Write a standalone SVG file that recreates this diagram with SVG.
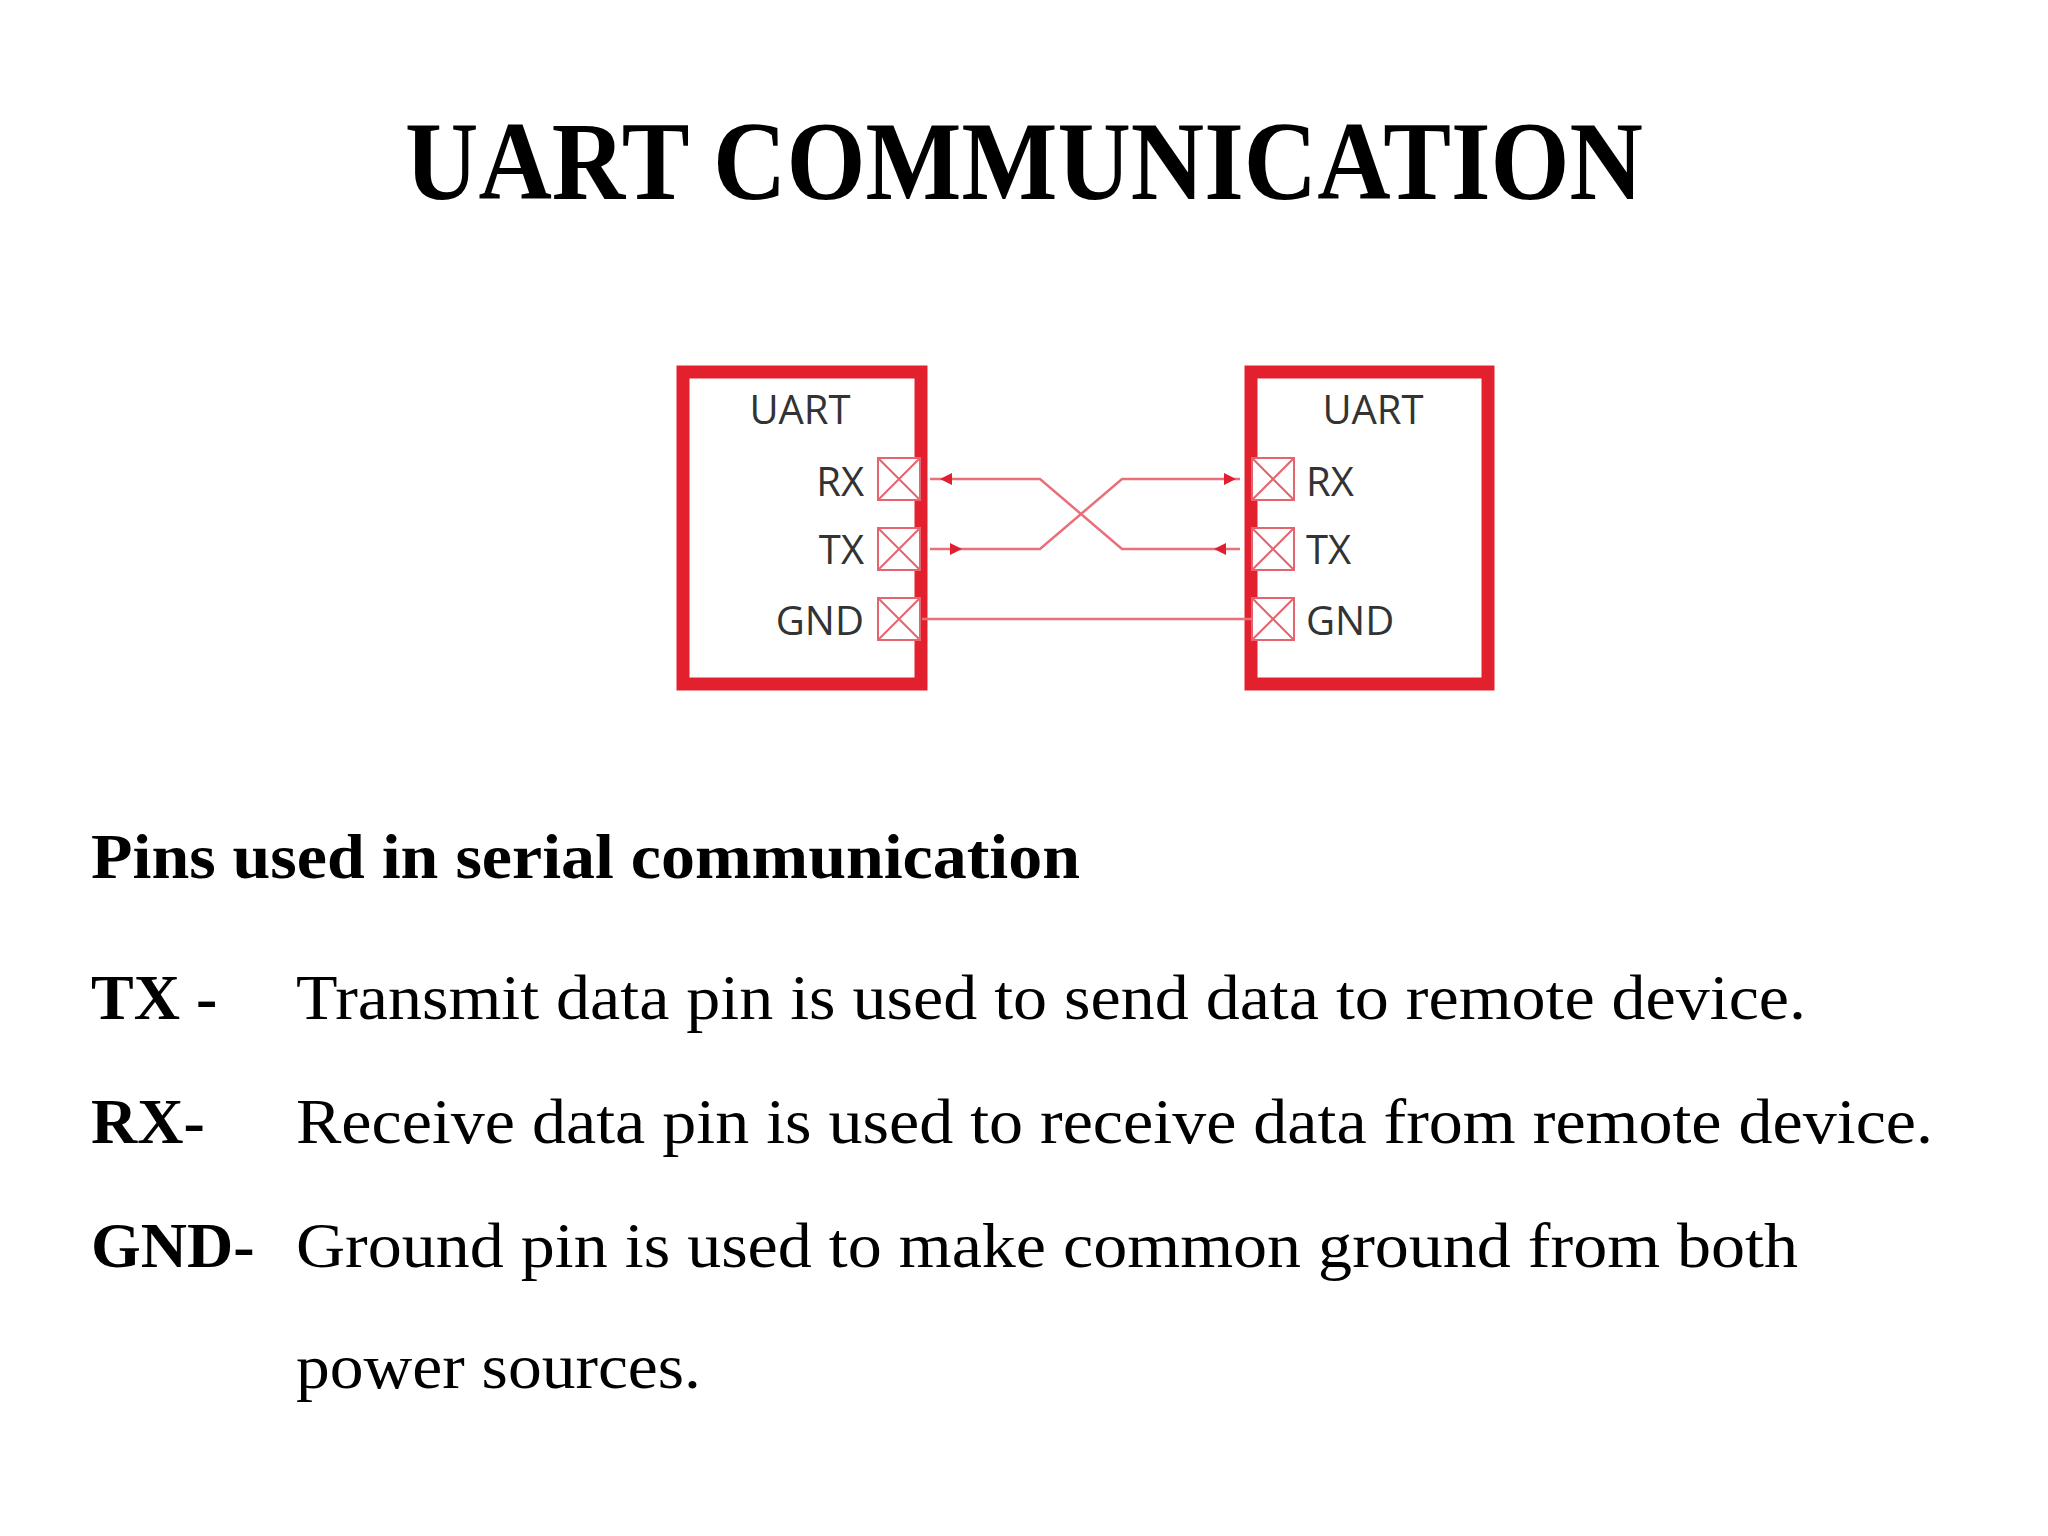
<svg xmlns="http://www.w3.org/2000/svg" width="2048" height="1536" viewBox="0 0 2048 1536">
<style>
.t{font-family:"Liberation Serif",serif;fill:#000}
.b{font-weight:bold}
.u{font-family:"Open Sans","DejaVu Sans",sans-serif;font-size:40px;fill:#333}
.box{fill:#fff;stroke:#e3202e;stroke-width:13}
.pin{fill:#fff;stroke:#e56470;stroke-width:2}
.w{fill:none;stroke:#e9707a;stroke-width:2.5}
.ah{fill:#e02030}
</style>
<rect width="2048" height="1536" fill="#fff"/>
<text class="t b" x="1024" y="199" font-size="112" text-anchor="middle" textLength="1238" lengthAdjust="spacingAndGlyphs">UART COMMUNICATION</text>
<g id="uart-left">
<rect class="box" x="683" y="372" width="238" height="312"/>
<text class="u" x="800" y="424" text-anchor="middle">UART</text>
<text class="u" x="864" y="496" text-anchor="end">RX</text>
<text class="u" x="864" y="564" text-anchor="end">TX</text>
<text class="u" x="864" y="635" text-anchor="end">GND</text>
<g class="pin"><rect x="878" y="458" width="42" height="42"/><path d="M878 458L920 500M920 458L878 500"/>
<rect x="878" y="528" width="42" height="42"/><path d="M878 528L920 570M920 528L878 570"/>
<rect x="878" y="598" width="42" height="42"/><path d="M878 598L920 640M920 598L878 640"/></g>
</g>
<g id="uart-right">
<rect class="box" x="1251" y="372" width="237" height="312"/>
<text class="u" x="1373" y="424" text-anchor="middle">UART</text>
<text class="u" x="1306" y="496">RX</text>
<text class="u" x="1306" y="564">TX</text>
<text class="u" x="1306" y="635">GND</text>
<g class="pin"><rect x="1252" y="458" width="42" height="42"/><path d="M1252 458L1294 500M1294 458L1252 500"/>
<rect x="1252" y="528" width="42" height="42"/><path d="M1252 528L1294 570M1294 528L1252 570"/>
<rect x="1252" y="598" width="42" height="42"/><path d="M1252 598L1294 640M1294 598L1252 640"/></g>
</g>
<g id="connectors">
<path class="w" d="M930 479H1040L1122 549H1240"/>
<path class="w" d="M930 549H1040L1122 479H1240"/>
<path class="w" d="M922 619H1252"/>
<path class="ah" d="M940 479l12-6v12z"/>
<path class="ah" d="M962 549l-12-6v12z"/>
<path class="ah" d="M1236 479l-12-6v12z"/>
<path class="ah" d="M1214 549l12-6v12z"/>
</g>
<text class="t b" x="91" y="878" font-size="64" textLength="989" lengthAdjust="spacingAndGlyphs">Pins used in serial communication</text>
<g class="t" font-size="64">
<text class="b" x="91" y="1019">TX -</text>
<text x="296" y="1019" textLength="1510" lengthAdjust="spacingAndGlyphs">Transmit data pin is used to send data to remote device.</text>
<text class="b" x="91" y="1143">RX-</text>
<text x="296" y="1143" textLength="1637" lengthAdjust="spacingAndGlyphs">Receive data pin is used to receive data from remote device.</text>
<text class="b" x="91" y="1267">GND-</text>
<text x="296" y="1267" textLength="1502" lengthAdjust="spacingAndGlyphs">Ground pin is used to make common ground from both</text>
<text x="296" y="1388" textLength="405" lengthAdjust="spacingAndGlyphs">power sources.</text>
</g>
</svg>
